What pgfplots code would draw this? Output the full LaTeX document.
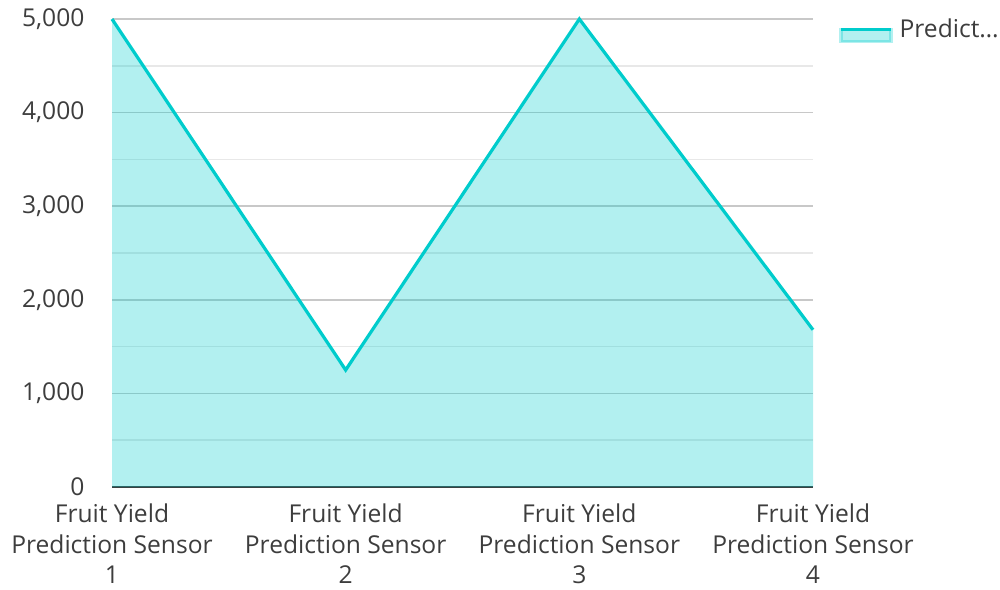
\documentclass[border=0pt]{standalone}
\usepackage{pgfplots}
\pgfplotsset{compat=1.18}
\usepackage{fontspec}
\setmainfont{Open Sans}
\definecolor{tealc}{HTML}{00CCCC}
\definecolor{txt}{HTML}{3D3D3D}
\definecolor{gmaj}{HTML}{C8C8C8}
\definecolor{gmin}{HTML}{E8E8E8}
\begin{document}
\fontsize{12.3pt}{16pt}\selectfont
\begin{tikzpicture}
\useasboundingbox (0,0) rectangle (500pt,294.5pt);
\begin{axis}[
  at={(56pt,51pt)}, anchor=south west,
  scale only axis, width=350.5pt, height=234pt,
  xmin=0, xmax=3, ymin=0, ymax=5000,
  axis x line*=bottom, axis y line*=left,
  x axis line style={draw=txt, line width=1pt},
  y axis line style={draw=none},
  xtick={0,1,2,3},
  xticklabels={{Fruit Yield\\Prediction Sensor\\1},{Fruit Yield\\Prediction Sensor\\2},{Fruit Yield\\Prediction Sensor\\3},{Fruit Yield\\Prediction Sensor\\4}},
  x tick label style={align=center, text=txt, font=\fontsize{12.3pt}{15.2pt}\selectfont, yshift=-4.2pt},
  ytick={0,1000,2000,3000,4000,5000},
  minor ytick={500,1500,2500,3500,4500},
  ymajorgrids, yminorgrids,
  major grid style={draw=gmaj, line width=0.8pt},
  minor grid style={draw=gmin, line width=0.8pt},
  major tick length=0pt, minor tick length=0pt,
  xtick style={draw=none},
  y tick label style={text=txt, font=\fontsize{12.3pt}{16pt}\selectfont, xshift=-9.5pt},
  scaled y ticks=false,
  /pgf/number format/.cd, 1000 sep={,}, assume math mode=true, /pgfplots/.cd,
  legend style={at={(1,1)}, anchor=north west, xshift=13pt, yshift=2.5pt, draw=none, fill=none,
    font=\fontsize{12.3pt}{16pt}\selectfont, text=txt, inner sep=0pt},
  legend cell align=left,
  legend image code/.code={
    \fill[tealc, opacity=0.3] (0pt,-6pt) rectangle (25pt,0pt);
    \draw[tealc, line width=1.6pt] (0pt,0pt) -- (25pt,0pt);
  },
  clip=false,
]
\addplot[draw=none, fill=tealc, fill opacity=0.3, forget plot] coordinates {
  (0,5000) (1,1250) (2,5000) (3,1680)
} \closedcycle;
\addplot[draw=tealc, line width=1.6pt, line join=miter, mark=none] coordinates {
  (0,5000) (1,1250) (2,5000) (3,1680)
};
\addlegendentry{\hspace{1.5pt}Predict…}
\end{axis}
\end{tikzpicture}
\end{document}
